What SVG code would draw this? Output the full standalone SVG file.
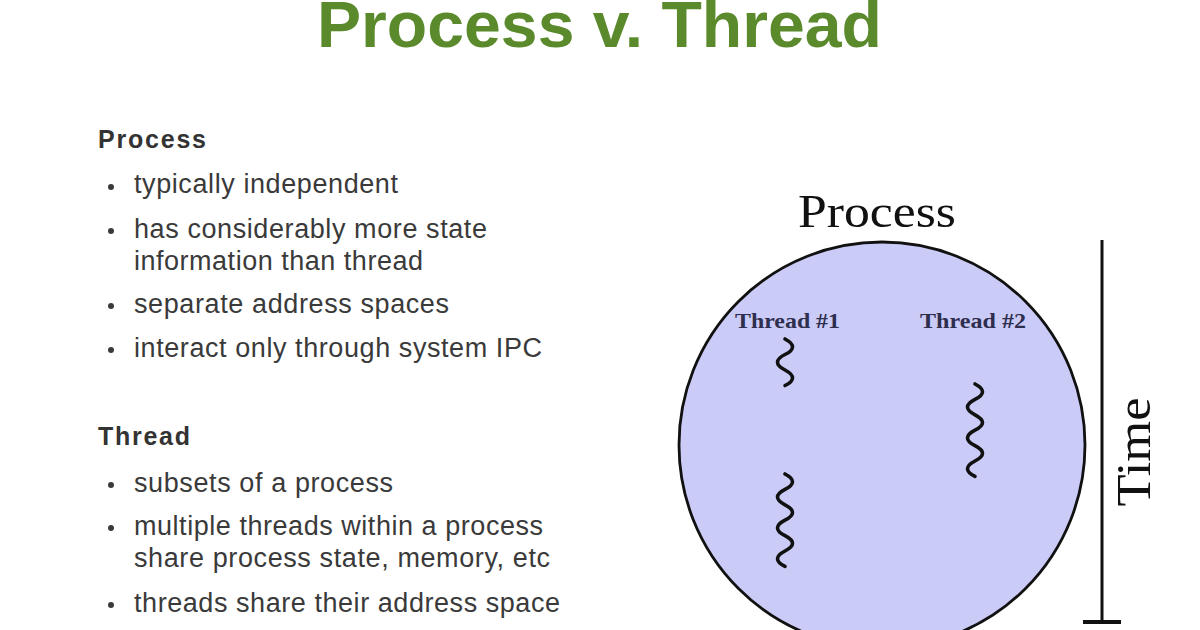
<svg xmlns="http://www.w3.org/2000/svg" width="1200" height="630" viewBox="0 0 1200 630">
<style>
.title{font-family:"Liberation Sans",Arial,sans-serif;font-weight:bold;font-size:65px;fill:#5b8a2c}
.head{font-family:"Liberation Sans",Arial,sans-serif;font-weight:bold;font-size:25px;fill:#333333}
.item{font-family:"Liberation Sans",Arial,sans-serif;font-size:27px;fill:#3a3a3a}
.bul{fill:#3a3a3a}
.serif{font-family:"Liberation Serif","Times New Roman",serif;fill:#111111}
.tlabel{font-family:"Liberation Serif","Times New Roman",serif;font-weight:bold;font-size:21px;fill:#2e2e4e}
.wave{fill:none;stroke:#111111;stroke-width:3.6;stroke-linecap:round}
</style>
<rect width="1200" height="630" fill="#ffffff"/>
<text class="title" x="317" y="47" textLength="565" lengthAdjust="spacingAndGlyphs">Process v. Thread</text>

<g id="process-list">
<text class="head" x="98" y="148" textLength="108" lengthAdjust="spacing">Process</text>
<circle class="bul" cx="111" cy="187" r="3"/>
<text class="item" x="134" y="193" textLength="264" lengthAdjust="spacing">typically independent</text>
<circle class="bul" cx="111" cy="231" r="3"/>
<text class="item" x="134" y="238" textLength="353" lengthAdjust="spacing">has considerably more state</text>
<text class="item" x="134" y="270" textLength="289" lengthAdjust="spacing">information than thread</text>
<circle class="bul" cx="111" cy="306" r="3"/>
<text class="item" x="134" y="313" textLength="315" lengthAdjust="spacing">separate address spaces</text>
<circle class="bul" cx="111" cy="350" r="3"/>
<text class="item" x="134" y="357" textLength="408" lengthAdjust="spacing">interact only through system IPC</text>
</g>

<g id="thread-list">
<text class="head" x="98" y="445" textLength="92" lengthAdjust="spacing">Thread</text>
<circle class="bul" cx="111" cy="485" r="3"/>
<text class="item" x="134" y="492" textLength="259" lengthAdjust="spacing">subsets of a process</text>
<circle class="bul" cx="111" cy="528" r="3"/>
<text class="item" x="134" y="535" textLength="409" lengthAdjust="spacing">multiple threads within a process</text>
<text class="item" x="134" y="567" textLength="416" lengthAdjust="spacing">share process state, memory, etc</text>
<circle class="bul" cx="111" cy="605" r="3"/>
<text class="item" x="134" y="612" textLength="426" lengthAdjust="spacing">threads share their address space</text>
</g>

<g id="process-circle">
<circle cx="882" cy="445" r="203" fill="#cbcbf8" stroke="#111111" stroke-width="2.8"/>
<text class="serif" x="798" y="227" font-size="46" textLength="158" lengthAdjust="spacingAndGlyphs">Process</text>
</g>

<g id="thread1">
<text class="tlabel" x="735" y="328" textLength="105" lengthAdjust="spacingAndGlyphs">Thread #1</text>
<path class="wave" d="M785 339 q15 8 0 15.5 t0 15.5 t0 15.5"/>
<path class="wave" d="M785 474 q15 7.7 0 15.4 t0 15.4 t0 15.4 t0 15.4 t0 15.4 t0 15.4"/>
</g>

<g id="thread2">
<text class="tlabel" x="920" y="328" textLength="106" lengthAdjust="spacingAndGlyphs">Thread #2</text>
<path class="wave" d="M975 384 q15 7.7 0 15.4 t0 15.4 t0 15.4 t0 15.4 t0 15.4 t0 15.4"/>
</g>

<g id="connectors">
<line x1="1102" y1="240" x2="1102" y2="622" stroke="#111111" stroke-width="3"/>
<line x1="1083" y1="622" x2="1121" y2="622" stroke="#111111" stroke-width="4"/>
</g>

<g id="time-label">
<text class="serif" transform="translate(1150 452) rotate(-90)" x="0" y="0" text-anchor="middle" font-size="48" textLength="109" lengthAdjust="spacingAndGlyphs">Time</text>
</g>
</svg>
